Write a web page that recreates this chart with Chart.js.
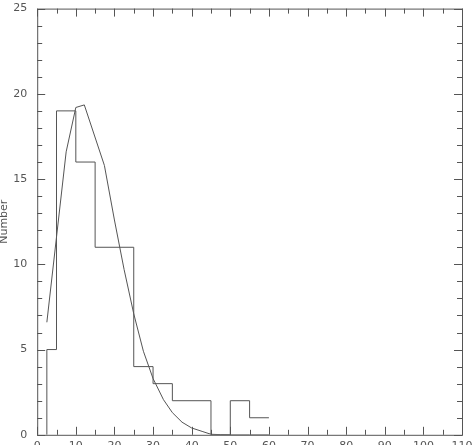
<!DOCTYPE html>
<html>
<head>
<meta charset="utf-8">
<script src="https://cdn.jsdelivr.net/npm/chart.js@4"></script>
<style>
  html, body { margin: 0; padding: 0; background: #fff; }
  #wrap { width: 474px; height: 445px; }
</style>
</head>
<body>
<div id="wrap"><canvas id="chart" width="474" height="445"></canvas></div>
<script>
// histogram: bin start -> count
const histX = [2.5, 2.5, 5, 10, 15, 25, 30, 35, 45, 50, 55, 60];
const histY = [0, 5, 19, 16, 11, 4, 3, 2, 0, 2, 1, 1];
// fitted curve
const fitX = [2.5, 7.5, 10, 12.2, 17.4, 20, 22.5, 25, 27.5, 30, 32.7, 35, 37.5, 40, 42.7, 45, 47.5, 50, 55, 60];
const fitY = [6.6, 16.6, 19.2, 19.35, 15.8, 12.6, 9.7, 7.1, 4.9, 3.3, 2.06, 1.3, 0.74, 0.4, 0.2, 0.03, 0.01, 0, 0, 0];

const xTicks = [0, 10, 20, 30, 40, 50, 60, 70, 80, 90, 100, 110];
const yTicks = [0, 5, 10, 15, 20, 25];

const ink = '#555';

// tick marks pointing into the plot, on all four sides
const inwardTicks = {
  id: 'inwardTicks',
  afterDraw(chart) {
    const ctx = chart.ctx;
    const a = chart.chartArea;
    const x = chart.scales.x, y = chart.scales.y;
    ctx.save();
    ctx.strokeStyle = ink;
    ctx.lineWidth = 1;
    ctx.beginPath();
    for (let v = 0; v <= 110; v += 5) {
      const len = v % 10 === 0 ? 8 : 5;
      const px = Math.round(x.getPixelForValue(v)) + 0.5;
      ctx.moveTo(px, a.bottom); ctx.lineTo(px, a.bottom - len);
      ctx.moveTo(px, a.top); ctx.lineTo(px, a.top + len);
    }
    for (let v = 0; v <= 25; v += 1) {
      const len = v % 5 === 0 ? 8 : 5;
      const py = Math.round(y.getPixelForValue(v)) + 0.5;
      ctx.moveTo(a.left, py); ctx.lineTo(a.left + len, py);
      ctx.moveTo(a.right, py); ctx.lineTo(a.right - len, py);
    }
    ctx.stroke();
    ctx.strokeRect(a.left + 0.5, a.top + 0.5, a.right - a.left, a.bottom - a.top);
    ctx.restore();
  }
};

new Chart(document.getElementById('chart'), {
  type: 'line',
  data: {
    datasets: [
      {
        data: histX.map((v, i) => ({ x: v, y: histY[i] })),
        stepped: 'before',
        borderColor: ink,
        borderWidth: 1,
        pointRadius: 0,
        fill: false
      },
      {
        data: fitX.map((v, i) => ({ x: v, y: fitY[i] })),
        borderColor: ink,
        borderWidth: 1,
        pointRadius: 0,
        tension: 0,
        fill: false
      }
    ]
  },
  options: {
    responsive: false,
    animation: false,
    layout: { padding: { top: -12, right: 12, bottom: -5, left: -2 } },
    plugins: { legend: { display: false }, tooltip: { enabled: false } },
    scales: {
      x: {
        type: 'linear',
        min: 0, max: 110,
        afterBuildTicks: s => { s.ticks = xTicks.map(v => ({ value: v })); },
        grid: { display: false },
        border: { display: false },
        ticks: { color: ink, font: { family: 'DejaVu Sans', size: 11 }, padding: -3, maxRotation: 0 }
      },
      y: {
        min: 0, max: 25,
        afterBuildTicks: s => { s.ticks = yTicks.map(v => ({ value: v })); },
        grid: { display: false },
        border: { display: false },
        ticks: { color: ink, font: { family: 'DejaVu Sans', size: 11 }, padding: 2 },
        title: { display: true, text: 'Number', color: ink, font: { family: 'DejaVu Sans', size: 11 }, padding: 0 }
      }
    }
  },
  plugins: [inwardTicks]
});
</script>
</body>
</html>
